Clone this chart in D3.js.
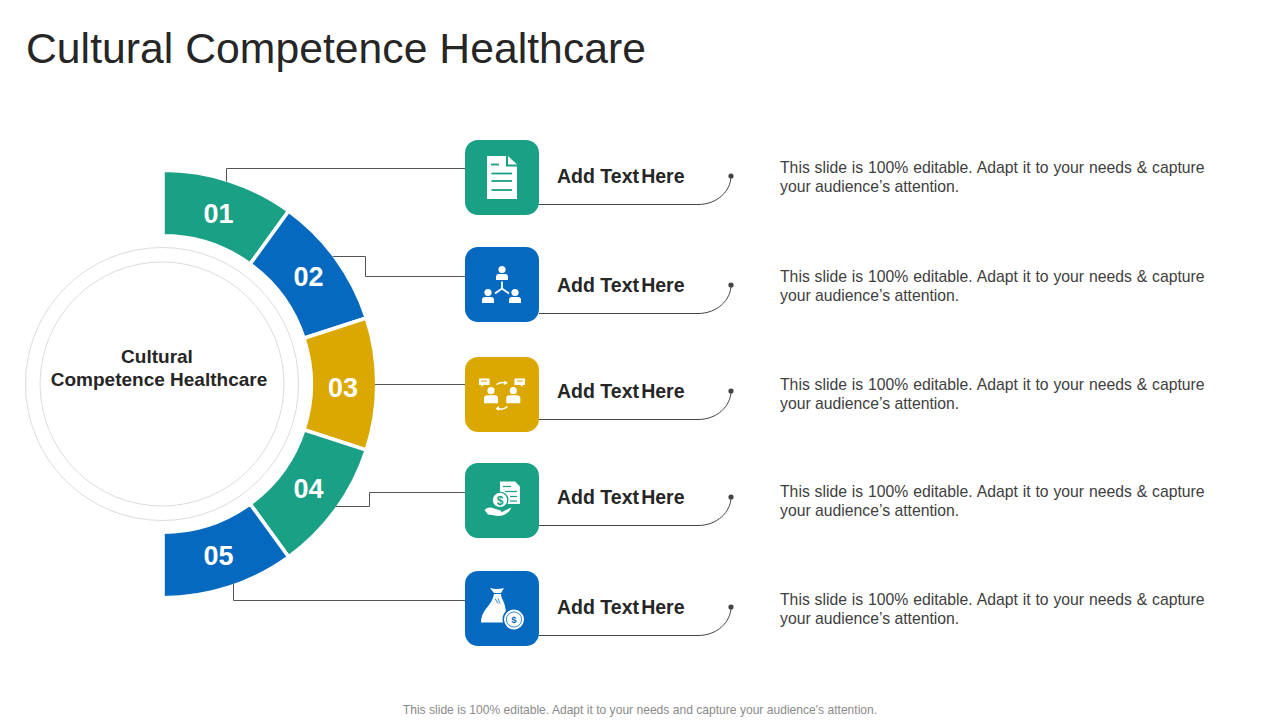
<!DOCTYPE html>
<html lang="en">
<head>
  <meta charset="UTF-8">
  <title>Cultural Competence Healthcare</title>
  <script src="https://d3js.org/d3.v7.min.js"></script>
  <style>
    html, body { margin: 0; padding: 0; background: #fff; }
    svg { display: block; }
    text { font-family: "Liberation Sans", Arial, sans-serif; }
  </style>
</head>
<body>
  <svg width="1280" height="720"></svg>
  <script>
    // chart content
    const titleText = "Cultural Competence Healthcare";
    const centerLines = ["Cultural", "Competence Healthcare"];
    const footerText = "This slide is 100% editable. Adapt it to your needs and capture your audience's attention.";
    const steps = ["01", "02", "03", "04", "05"];
    const shares = [1, 1, 1, 1, 1];
    const stepColors = ["#1aa085", "#0569bf", "#daa800", "#1aa085", "#0569bf"];
    const labels = ["Add Text Here", "Add Text Here", "Add Text Here", "Add Text Here", "Add Text Here"];
    const descLine1 = "This slide is 100% editable. Adapt it to your needs & capture";
    const descLine2 = "your audience\u2019s attention.";

    const svg = d3.select("svg");

    // row positions, the rows in the slide are not evenly spaced
    const labelY = d3.scaleOrdinal().domain(steps).range([176, 285, 391, 497, 607]);
    const iconY = d3.scaleOrdinal().domain(steps).range([177.5, 284.5, 394.5, 500.5, 608.5]);
    const descY = d3.scaleOrdinal().domain(steps).range([167, 276, 384, 491, 599]);
    const linkY = d3.scaleOrdinal().domain(steps).range([168.5, 276.5, 384.5, 492.5, 600.5]);
    const linkElbow = d3.scaleOrdinal().domain(steps).range([null, 365.5, 375, 369.5, null]);
    const linkDeg = d3.scaleOrdinal().domain(steps).range([17.4, 53.2, 90, 125.5, 160.7]);
    const numNudge = d3.scaleOrdinal().domain(steps).range([0, -2, 3, -2, 0]);

    const cx = 163, cy = 384, outerR = 212, innerR = 150, gap = 3.6;
    const iconX = 502;

    // title and footer
    svg.append("text").attr("x", 26).attr("y", 63).attr("font-size", 42.67)
      .attr("letter-spacing", 0.04).attr("fill", "#262626").text(titleText);
    svg.append("text").attr("x", 640).attr("y", 714).attr("font-size", 12.08)
      .attr("text-anchor", "middle").attr("fill", "#8a8a8a").text(footerText);

    // half ring, the white stroke makes the gaps so the radii are widened by half of it
    const pie = d3.pie().sort(null).startAngle(0).endAngle(Math.PI);
    const arcGen = d3.arc().innerRadius(innerR - gap / 2).outerRadius(outerR + gap / 2);
    const arcs = pie(shares);
    const ring = svg.append("g").attr("transform", `translate(${cx},${cy})`);
    ring.selectAll("path").data(arcs).enter().append("path")
      .attr("d", arcGen)
      .attr("fill", (d, i) => stepColors[i])
      .attr("stroke", "#fff").attr("stroke-width", gap);

    // connectors start on the outer edge of the ring
    const lineGen = d3.line();
    steps.forEach(s => {
      const a = linkDeg(s) * Math.PI / 180;
      const ax = cx + outerR * Math.sin(a);
      const ay = linkY(s) === 384.5 ? 384.5 : Math.round(cy - outerR * Math.cos(a)) - 0.5;
      const ex = linkElbow(s) === null ? Math.round(ax) + 0.5 : linkElbow(s);
      svg.append("path")
        .attr("d", lineGen([[ex === linkElbow(s) ? ax : ex, ay], [ex, ay], [ex, linkY(s)], [iconX, linkY(s)]]))
        .attr("fill", "none").attr("stroke", "#555").attr("stroke-width", 1);
    });

    svg.append("circle").attr("cx", 162).attr("cy", cy).attr("r", 136.5)
      .attr("fill", "none").attr("stroke", "#dcdcdc").attr("stroke-width", 1);
    svg.append("circle").attr("cx", 162).attr("cy", cy).attr("r", 122)
      .attr("fill", "none").attr("stroke", "#dcdcdc").attr("stroke-width", 1);

    const numArc = d3.arc().innerRadius(180).outerRadius(180);
    ring.selectAll("text").data(arcs).enter().append("text")
      .attr("x", d => numArc.centroid(d)[0])
      .attr("y", (d, i) => numArc.centroid(d)[1] + 10 + numNudge(steps[i]))
      .attr("text-anchor", "middle").attr("font-size", 27).attr("font-weight", "bold")
      .attr("fill", "#fff").text((d, i) => steps[i]);

    centerLines.forEach((t, i) => {
      svg.append("text").attr("x", i === 0 ? 157 : 159).attr("y", 363 + i * 23)
        .attr("text-anchor", "middle").attr("font-size", 19).attr("font-weight", "bold")
        .attr("fill", "#262626").text(t);
    });

    // rows
    steps.forEach((s, i) => {
      const y = labelY(s);
      svg.append("rect").attr("x", 465).attr("y", iconY(s) - 37.5)
        .attr("width", 74).attr("height", 75).attr("rx", 13)
        .attr("fill", stepColors[i]);

      // the last word sits closer in the slide
      const words = labels[i].split(" ");
      const lastWord = words.pop();
      const label = svg.append("text").attr("x", 557).attr("y", y + 7).attr("font-size", 19.5)
        .attr("font-weight", "bold").attr("fill", "#262626");
      label.append("tspan").text(words.join(" ") + " ");
      label.append("tspan").attr("dx", -3.2).text(lastWord);

      const p = d3.path();
      p.moveTo(539, y + 28.5);
      p.lineTo(698, y + 28.5);
      p.bezierCurveTo(717, y + 28.5, 731, y + 15, 731, y);
      svg.append("path").attr("d", p.toString()).attr("fill", "none")
        .attr("stroke", "#444").attr("stroke-width", 1);
      svg.append("circle").attr("cx", 731).attr("cy", y).attr("r", 2.6).attr("fill", "#444");

      svg.append("text").attr("x", 780).attr("y", descY(s) + 6).attr("font-size", 15.75)
        .attr("word-spacing", 0.47).attr("fill", "#404040").text(descLine1);
      svg.append("text").attr("x", 780).attr("y", descY(s) + 25).attr("font-size", 15.75)
        .attr("fill", "#404040").text(descLine2);
    });

    // icons, drawn around the middle of each box
    function iconGroup(s) {
      return svg.append("g").attr("transform", `translate(${iconX},${iconY(s)})`);
    }
    function person(g, x, y, r, w, h) {
      g.append("circle").attr("cx", x).attr("cy", y).attr("r", r).attr("fill", "#fff");
      g.append("path")
        .attr("d", `M${x - w / 2},${y + r + 1 + h}L${x - w / 2},${y + r + 4}Q${x - w / 2},${y + r + 1} ${x - w / 4},${y + r + 1}L${x + w / 4},${y + r + 1}Q${x + w / 2},${y + r + 1} ${x + w / 2},${y + r + 4}L${x + w / 2},${y + r + 1 + h}Z`)
        .attr("fill", "#fff");
    }
    function bars(g, rows, color, sw) {
      rows.forEach(r => g.append("line").attr("x1", r[0]).attr("x2", r[1]).attr("y1", r[2]).attr("y2", r[2])
        .attr("stroke", color).attr("stroke-width", sw));
    }

    // 01 document
    let g = iconGroup("01");
    g.append("path").attr("d", "M-15,-21.5L4,-21.5L4,-11L15,-11L15,21.5L-15,21.5Z").attr("fill", "#fff");
    g.append("path").attr("d", "M6,-21.5L15,-13L6,-13Z").attr("fill", "#fff");
    bars(g, [[-11, -3, -13], [-10.5, 10, -4], [-10.5, 10, 3.5], [-10.5, 10, 12.5]], stepColors[0], 1.8);

    // 02 three people
    g = iconGroup("02");
    person(g, 0, -15, 3.6, 12, 6);
    person(g, -14, 8, 3.6, 12, 6);
    person(g, 13, 8, 3.6, 12, 6);
    g.append("path").attr("d", "M0,-3L0,4M-7,9L0,4L7,9").attr("fill", "none").attr("stroke", "#fff").attr("stroke-width", 1.8);

    // 03 two people talking
    g = iconGroup("03");
    person(g, -11, -3.8, 3.6, 14, 8);
    person(g, 11.3, -3.8, 3.6, 14, 8);
    g.append("path").attr("d", "M-23,-16h10.5v6.5h-6l-2,2v-2h-2.5Z").attr("fill", "#fff");
    g.append("path").attr("d", "M12.5,-16h10.5v6.5h-2.5v2l-2,-2h-6Z").attr("fill", "#fff");
    bars(g, [[-21, -15, -13.5], [15, 21, -13.5]], stepColors[2], 1);
    g.append("path").attr("d", "M-5.5,-10Q-1,-13 3.5,-11.5").attr("fill", "none").attr("stroke", "#fff").attr("stroke-width", 1.5);
    g.append("path").attr("d", "M2.5,-14L6,-11.5L2,-9.5Z").attr("fill", "#fff");
    g.append("path").attr("d", "M5.5,12Q1,16 -4,14").attr("fill", "none").attr("stroke", "#fff").attr("stroke-width", 1.5);
    g.append("path").attr("d", "M-3,11.5L-6.5,14L-3,16.5Z").attr("fill", "#fff");

    // 04 hand, coin and document
    g = iconGroup("04");
    g.append("path").attr("d", "M-2,-19L13,-19L18,-14L18,3.5L-2,3.5Z").attr("fill", "#fff");
    bars(g, [[1, 9, -14], [3, 15, -9], [8, 15, -4], [8, 15, 0.5]], stepColors[3], 1.2);
    g.append("circle").attr("cx", -2).attr("cy", -0.5).attr("r", 8.6).attr("fill", stepColors[3]);
    g.append("circle").attr("cx", -2).attr("cy", -0.5).attr("r", 7.2).attr("fill", "#fff");
    g.append("text").attr("x", -2).attr("y", 4).attr("text-anchor", "middle").attr("font-size", 12)
      .attr("font-weight", "bold").attr("fill", stepColors[3]).text("$");
    g.append("path").attr("d", "M-17.5,9.5Q-13,5.5 -8,8L-3,9.5Q0,10 -1,12L5,9L9.5,7L7,11Q2,15.5 -4,15.5L-10,14.5L-14,14Z").attr("fill", "#fff");

    // 05 money bag and coin
    g = iconGroup("05");
    g.append("path").attr("d", "M-12,-20.5Q-5,-18.5 2,-20.5L-1,-15.5L-8,-15.5Z").attr("fill", "#fff");
    g.append("path").attr("d", "M-8,-14.5L-1,-14.5Q-1,-11 1,-8Q5,0 4,14L-21,14Q-21,6 -15,-1Q-9,-8 -8,-14.5Z").attr("fill", "#fff");
    g.append("path").attr("d", "M-7,-10L-4,-5M-4,-10L-2,-5").attr("fill", "none").attr("stroke", stepColors[4]).attr("stroke-width", 0.8);
    g.append("circle").attr("cx", 12).attr("cy", 11).attr("r", 11.5).attr("fill", stepColors[4]);
    g.append("circle").attr("cx", 12).attr("cy", 11).attr("r", 10).attr("fill", "#fff");
    g.append("circle").attr("cx", 12).attr("cy", 11).attr("r", 7.6).attr("fill", "none").attr("stroke", stepColors[4]).attr("stroke-width", 0.8);
    g.append("text").attr("x", 12).attr("y", 14.5).attr("text-anchor", "middle").attr("font-size", 9.5)
      .attr("font-weight", "bold").attr("fill", stepColors[4]).text("$");
  </script>
</body>
</html>
